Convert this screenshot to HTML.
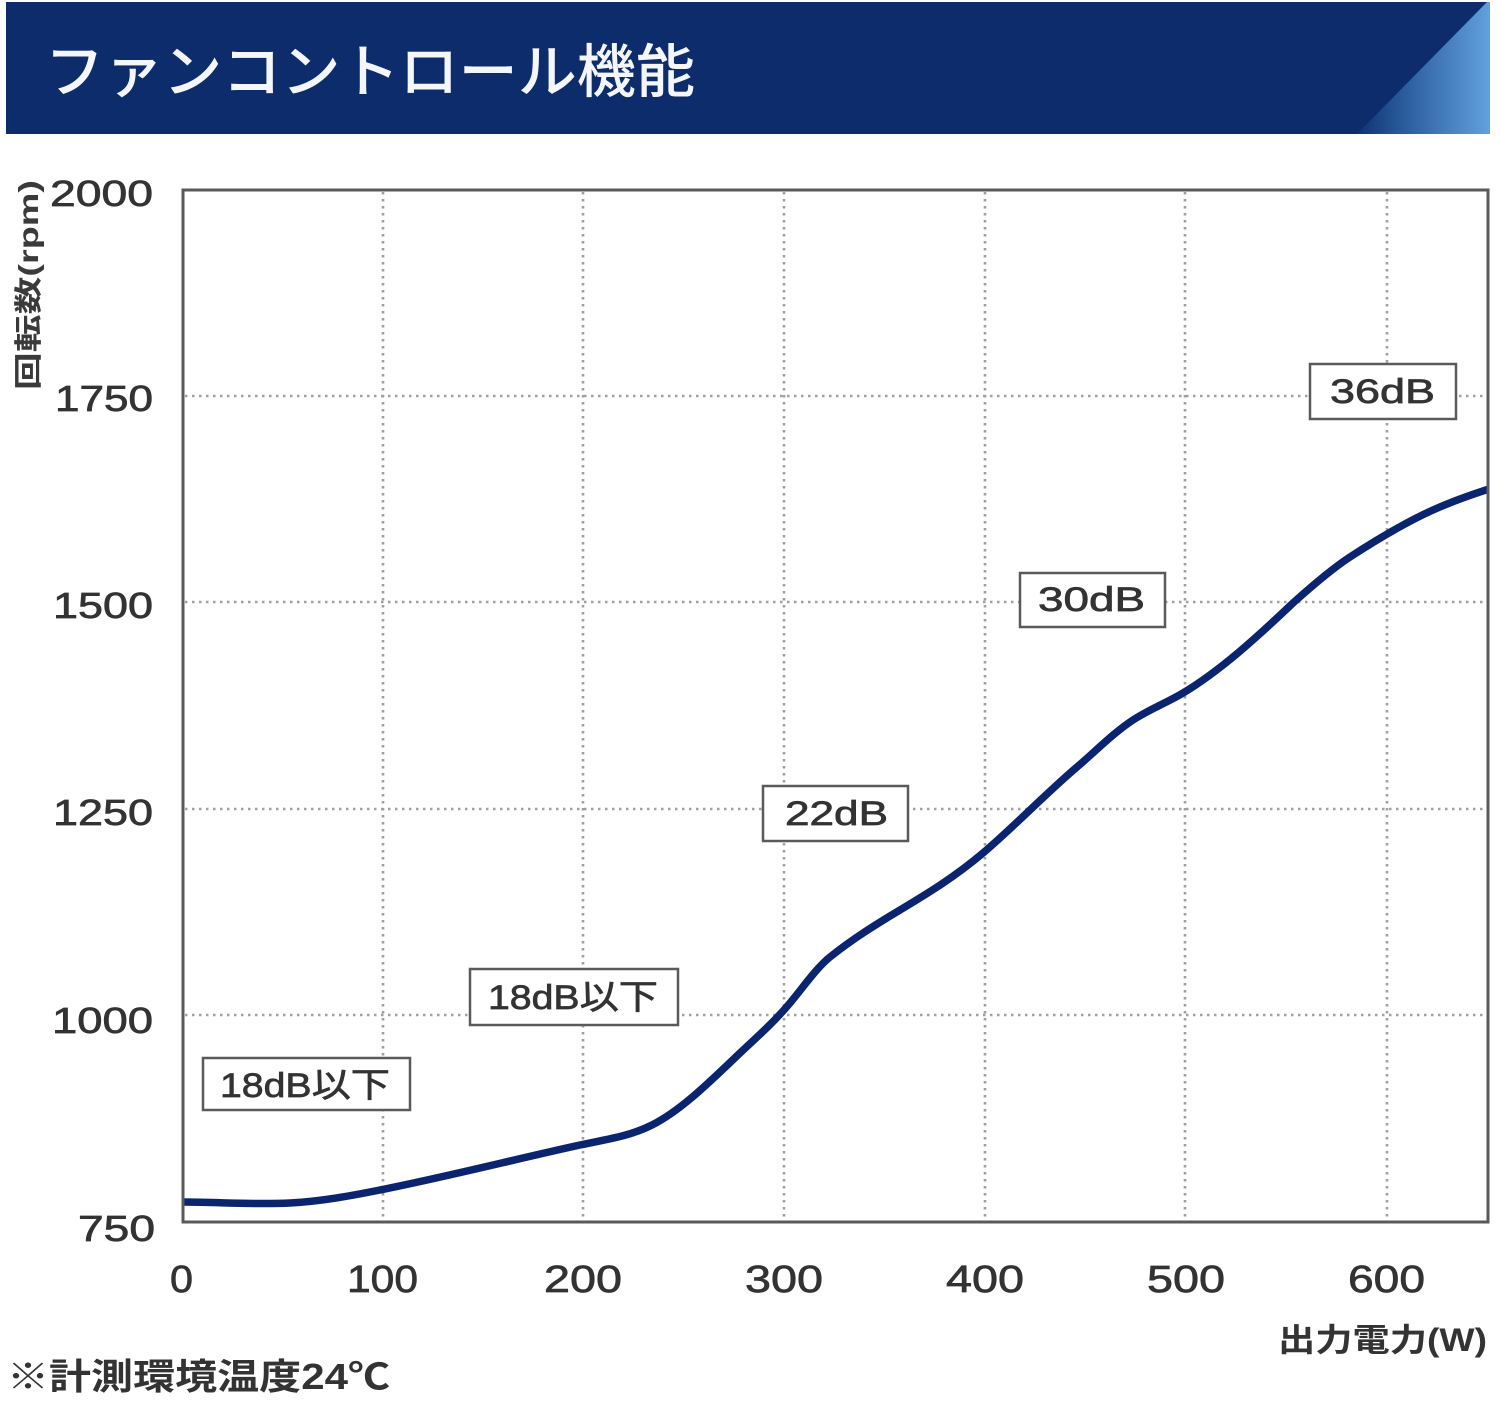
<!DOCTYPE html>
<html>
<head>
<meta charset="utf-8">
<style>
  html,body{margin:0;padding:0;background:#fff;}
  svg{display:block;}
  .tk{font-family:"Liberation Sans","Noto Sans CJK JP",sans-serif;fill:#333;stroke:#333;stroke-width:0.7px;}
  .jp{font-family:"Liberation Sans","Noto Sans CJK JP",sans-serif;}
</style>
</head>
<body>
<svg width="1500" height="1423" viewBox="0 0 1500 1423" xmlns="http://www.w3.org/2000/svg">
  <defs>
    <linearGradient id="hg" gradientUnits="userSpaceOnUse" x1="1357" y1="0" x2="1490" y2="0">
      <stop offset="0" stop-color="#0e3272"/>
      <stop offset="0.35" stop-color="#2a5c9c"/>
      <stop offset="1" stop-color="#62a0de"/>
    </linearGradient>
    <clipPath id="pc"><rect x="183" y="190" width="1305" height="1032"/></clipPath>
  </defs>

  <!-- header band -->
  <rect x="6" y="2" width="1484" height="132" fill="#0c2c6b"/>
  <polygon points="1487,2 1490,2 1490,134 1357,134" fill="url(#hg)"/>
  <text class="jp" x="45" y="92" font-size="58" font-weight="500" fill="#f4f6fb" textLength="650" lengthAdjust="spacingAndGlyphs">ファンコントロール機能</text>

  <!-- plot background -->
  <rect x="183" y="190" width="1305" height="1032" fill="#ffffff"/>

  <!-- grid -->
  <g stroke="#a0a0a0" stroke-width="2.6" stroke-dasharray="2.5 4.5" fill="none">
    <line x1="383" y1="192" x2="383" y2="1220"/>
    <line x1="583" y1="192" x2="583" y2="1220"/>
    <line x1="784" y1="192" x2="784" y2="1220"/>
    <line x1="985" y1="192" x2="985" y2="1220"/>
    <line x1="1185" y1="192" x2="1185" y2="1220"/>
    <line x1="1387" y1="192" x2="1387" y2="1220"/>
    <line x1="185" y1="396" x2="1486" y2="396"/>
    <line x1="185" y1="602" x2="1486" y2="602"/>
    <line x1="185" y1="809" x2="1486" y2="809"/>
    <line x1="185" y1="1015" x2="1486" y2="1015"/>
  </g>

  <!-- curve -->
  <path clip-path="url(#pc)" fill="none" stroke="#0b2470" stroke-width="7.5" stroke-linecap="round" stroke-linejoin="round"
    d="M180,1202
       C218.7,1202 254.3,1204.8 290,1203
       C320,1201.5 350,1196 380,1190
       C446.7,1176.7 513.3,1159.7 580,1145
       C604,1139.7 628,1137 652,1125
       C681.3,1110.3 710.7,1080.9 740,1053
       C756.7,1037.2 773.3,1023 790,1003
       C803.3,987 816.7,967.7 830,957
       C853.3,938.3 876.7,924 900,910
       C927.7,893.4 955.3,876.5 983,853
       C1014.3,826.4 1045.7,793.6 1077,767
       C1095.7,751.1 1114.3,732.2 1133,720
       C1149.7,709.1 1166.3,703 1183,693
       C1219.7,671 1256.3,637.9 1293,603
       C1312,585.9 1331,569.4 1350,557
       C1377.7,539 1405.3,522.5 1433,510
       C1452,501.4 1471,494.7 1492,488"/>

  <!-- frame -->
  <rect x="183" y="190" width="1305" height="1032" fill="none" stroke="#5a5a5a" stroke-width="3"/>

  <!-- annotation boxes -->
  <g fill="#ffffff" stroke="#5a5a5a" stroke-width="2.5">
    <rect x="203" y="1058" width="207" height="52"/>
    <rect x="470" y="969" width="208" height="56"/>
    <rect x="763" y="786" width="145" height="55"/>
    <rect x="1020" y="573" width="145" height="54"/>
    <rect x="1310" y="364" width="146" height="55"/>
  </g>
  <g class="tk" font-size="34">
    <text x="220" y="1097" textLength="170" lengthAdjust="spacingAndGlyphs">18dB以下</text>
    <text x="488" y="1009" textLength="170" lengthAdjust="spacingAndGlyphs">18dB以下</text>
    <text x="785" y="825" textLength="103" lengthAdjust="spacingAndGlyphs">22dB</text>
    <text x="1038" y="611" textLength="107" lengthAdjust="spacingAndGlyphs">30dB</text>
    <text x="1330" y="403" textLength="105" lengthAdjust="spacingAndGlyphs">36dB</text>
  </g>

  <!-- y tick labels -->
  <g class="tk" font-size="36">
    <text x="50" y="206" textLength="103" lengthAdjust="spacingAndGlyphs">2000</text>
    <text x="55" y="411" textLength="98" lengthAdjust="spacingAndGlyphs">1750</text>
    <text x="53" y="618" textLength="100" lengthAdjust="spacingAndGlyphs">1500</text>
    <text x="53" y="825" textLength="100" lengthAdjust="spacingAndGlyphs">1250</text>
    <text x="52" y="1033" textLength="101" lengthAdjust="spacingAndGlyphs">1000</text>
    <text x="78" y="1241" textLength="77" lengthAdjust="spacingAndGlyphs">750</text>
  </g>

  <!-- x tick labels -->
  <g class="tk" font-size="38">
    <text x="170" y="1292" textLength="23" lengthAdjust="spacingAndGlyphs">0</text>
    <text x="347" y="1292" textLength="71" lengthAdjust="spacingAndGlyphs">100</text>
    <text x="544" y="1292" textLength="78" lengthAdjust="spacingAndGlyphs">200</text>
    <text x="745" y="1292" textLength="78" lengthAdjust="spacingAndGlyphs">300</text>
    <text x="946" y="1292" textLength="78" lengthAdjust="spacingAndGlyphs">400</text>
    <text x="1147" y="1292" textLength="78" lengthAdjust="spacingAndGlyphs">500</text>
    <text x="1348" y="1292" textLength="77" lengthAdjust="spacingAndGlyphs">600</text>
  </g>

  <!-- axis titles -->
  <text class="jp" transform="translate(38,390) rotate(-90)" x="0" y="0" font-size="28" font-weight="bold" fill="#3a3a3a" textLength="210" lengthAdjust="spacingAndGlyphs">回転数(rpm)</text>
  <text class="jp" x="1278" y="1351" font-size="32" font-weight="bold" fill="#333" textLength="209" lengthAdjust="spacingAndGlyphs">出力電力(W)</text>

  <!-- footnote -->
  <text class="jp" x="7" y="1389" font-size="36" font-weight="bold" fill="#333" textLength="383" lengthAdjust="spacingAndGlyphs">※計測環境温度24℃</text>
</svg>
</body>
</html>
